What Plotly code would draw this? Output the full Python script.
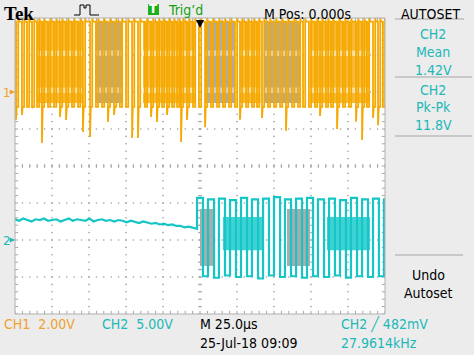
import numpy as np
import plotly.graph_objects as go

# ---------------- data (read from the screen) ----------------
# time base: 25 us/div, 10 div, M Pos 0 -> screen spans -125..125 us
# CH1: 2.00 V/div, ground marker +2 div ; CH2: 5.00 V/div, ground marker -2 div
ch1_edge_us = [-124.3, -120.3, -116.9, -113.5, -110.1, -106.8, -102.7, -98.6, -94.6, -90.5,
               -86.5, -82.4, -79.1, -74.3, -70.3, -66.2, -62.2, -58.1, -54.1, -50.0,
               -45.9, -41.9, -37.2, -33.1, -29.1, -25.7, -22.3, -18.9, -15.5, -12.8,
               -8.8, -4.7, -0.7, 3.4, 7.4, 11.5, 15.5, 19.6, 23.6, 27.0,
               31.1, 35.1, 38.5, 41.9, 45.9, 50.0, 54.1, 58.1, 62.2, 66.2,
               69.6, 73.6, 77.7, 81.1, 85.1, 88.5, 92.6, 96.6, 100.7, 105.4,
               109.5, 112.8, 116.9, 120.3, 123.6]
ch1_dip_v = [-1.5, -1.24, -0.8, -0.86, -0.8, -2.76, -0.8, -0.8, -1.35, -1.51,
             -0.8, -0.8, -2.16, -2.43, -0.8, -0.8, -1.62, -1.24, -0.8, -0.8,
             -2.49, -2.49, -0.8, -1.35, -1.62, -0.8, -1.24, -0.8, -0.8, -2.70,
             -1.51, -0.8, -0.8, -1.9, -0.8, -0.8, -0.8, -0.8, -0.8, -1.5,
             -0.8, -0.8, -0.8, -1.4, -0.8, -0.8, -0.8, -2.1, -0.8, -0.8,
             -0.8, -0.8, -0.8, -1.3, -0.8, -0.8, -2.0, -0.8, -0.8, -1.6,
             -2.6, -0.8, -1.4, -1.8, -0.8]
ch1_high_v = 3.8
ch1_low_v = -0.8
ch1_band_start_us = [-110.1, -70.9, -38.5, 3.4, 27.0, 43.9, 74.3]
ch1_band_end_us = [-79.1, -52.0, -3.4, 23.6, 41.0, 67.6, 114.9]
ch1_band_kind = ["y", "g", "y", "g", "y", "g", "y"]

ch2_flat_v = [2.8, 2.6, 2.9, 2.7, 2.5, 2.8, 2.7, 2.9, 2.6, 2.7, 2.8, 2.5, 2.7, 2.9, 2.6,
              2.8, 2.7, 2.6, 2.9, 2.5, 2.7, 2.8, 2.6, 2.7, 2.5, 2.7, 2.6, 2.4, 2.6, 2.5,
              2.3, 2.5, 2.4, 2.2, 2.3, 2.1, 2.2, 2.0, 2.1, 1.9, 1.9, 1.7, 1.8, 1.6, 1.5]
ch2_flat_start_us = -125.0
ch2_flat_end_us = -2.0
ch2_edge_us = [-2.0, 2.0, 5.4, 9.5, 12.8, 16.9, 20.3, 24.3, 27.7, 31.8, 35.1, 39.2,
               42.6, 46.6, 50.0, 54.1, 57.4, 61.5, 64.9, 68.9, 72.3, 76.4, 79.7, 83.8,
               87.2, 91.2, 94.6, 98.6, 102.0, 106.1, 109.5, 113.5, 116.9, 120.9, 124.3]
ch2_level_v = [5.7, -4.9, 5.5, -5.1, 5.6, -4.8, 5.4, -5.0, 5.7, -4.9, 5.5, -5.2,
               5.6, -4.8, 5.8, -5.0, 5.5, -4.9, 5.6, -5.1, 5.7, -4.9, 5.5, -5.0,
               5.6, -4.8, 5.4, -5.1, 5.7, -4.9, 5.5, -5.0, 5.6, -4.9, 5.5]
ch2_band_start_us = [0.0, 15.5, 58.8, 85.8]
ch2_band_end_us = [8.8, 42.6, 74.3, 114.9]
ch2_band_kind = ["g", "c", "g", "c"]

CH1_VDIV, CH1_POS = 2.0, 2.0
CH2_VDIV, CH2_POS = 5.0, -2.0

# ---------------- styling ----------------
W, H = 474, 355
PL, PR, PT, PB = 15, 385, 18, 314
YEL = "#F5A900"
YEL_FILL = "#F7B936"
YEL_STRIPE = "#FCE2A6"
CYAN = "#16C6C6"
CYAN_FILL = "#3ED3D3"
GRAYF = "#ABABAB"
GRAY_STRIPE = "#D2D2D2"
TXT_CY = "#20B8B8"
TXT_OR = "#EFA22C"
BG = "#ECECEC"
FONT = "DejaVu Sans Condensed"


def d1(v):
    return v / CH1_VDIV + CH1_POS


def d2(v):
    return v / CH2_VDIV + CH2_POS


def px(x):
    return (x - PL) / (PR - PL)


def py(y):
    return (PB - y) / (PB - PT)


def rect(fig, x0, x1, y0, y1, color):
    fig.add_trace(go.Scatter(x=[x0, x1, x1, x0, x0], y=[y0, y0, y1, y1, y0],
                             fill="toself", fillcolor=color, line=dict(width=0), mode="lines",
                             hoverinfo="skip", showlegend=False))


fig = go.Figure()

# grid dots
gx, gy = [], []
for k in range(-4, 5):
    for m in np.arange(-4, 4.001, 0.2):
        gx.append(k * 25.0)
        gy.append(m)
for k in range(-3, 4):
    for m in np.arange(-5, 5.001, 0.2):
        gx.append(m * 25.0)
        gy.append(k)
fig.add_trace(go.Scatter(x=gx, y=gy, mode="markers",
                         marker=dict(size=1.6, color="#9C9C9C", line=dict(width=0)),
                         hoverinfo="skip", showlegend=False))

# ticks on border and central axes
tx, ty = [], []
tl_x = 2.0 / 37 * 25
tl_y = 2.0 / 37
for m in np.arange(-5, 5.001, 0.2):
    x = m * 25.0
    tx += [x, x, None, x, x, None, x, x, None]
    ty += [-4, -4 + 1.6 * tl_y, None, 4, 4 - 1.6 * tl_y, None, -tl_y, tl_y, None]
for m in np.arange(-4, 4.001, 0.2):
    tx += [-125, -125 + 1.6 * tl_x, None, 125, 125 - 1.6 * tl_x, None, -tl_x, tl_x, None]
    ty += [m, m, None, m, m, None, m, m, None]
fig.add_trace(go.Scatter(x=tx, y=ty, mode="lines", line=dict(color="#A8A8A8", width=1),
                         hoverinfo="skip", showlegend=False))

# CH1 band fills
for s, e, k in zip(ch1_band_start_us, ch1_band_end_us, ch1_band_kind):
    col = YEL_FILL if k == "y" else GRAYF
    stripe = YEL_STRIPE if k == "y" else GRAY_STRIPE
    rect(fig, s, e, d1(ch1_high_v), d1(ch1_low_v + 0.2), col)
    for lv in (2.1, 0.1):
        rect(fig, s, e, d1(lv + 0.15), d1(lv - 0.15), stripe)

# CH2 band fills
for s, e, k in zip(ch2_band_start_us, ch2_band_end_us, ch2_band_kind):
    if k == "c":
        rect(fig, s, e, d2(3.1), d2(-1.4), CYAN_FILL)
    else:
        rect(fig, s, e, d2(4.2), d2(-3.5), GRAYF)

# CH1 trace
x1, y1 = [-125.0], [d1(ch1_high_v)]
for t, dv in zip(ch1_edge_us, ch1_dip_v):
    x1 += [t, t, t + 0.5, t + 1.5, t + 1.5, t + 2.0]
    y1 += [d1(ch1_high_v), d1(dv), d1(ch1_low_v), d1(ch1_low_v), d1(ch1_high_v + 0.2), d1(ch1_high_v)]
fig.add_trace(go.Scatter(x=x1, y=y1, mode="lines", line=dict(color=YEL, width=1.8),
                         hoverinfo="skip", showlegend=False))

# CH2 trace
n = len(ch2_flat_v)
x2 = [ch2_flat_start_us + (ch2_flat_end_us - ch2_flat_start_us) * i / (n - 1) for i in range(n)]
y2 = [d2(v) for v in ch2_flat_v]
prev = ch2_flat_v[-1]
for t, lv in zip(ch2_edge_us, ch2_level_v):
    x2 += [t, t]
    y2 += [d2(prev), d2(lv)]
    prev = lv
x2.append(125.0)
y2.append(d2(prev))
fig.add_trace(go.Scatter(x=x2, y=y2, mode="lines", line=dict(color=CYAN, width=2.2),
                         hoverinfo="skip", showlegend=False))

# ---------------- annotations ----------------
ann = []


def txt(x, y, s, color="black", size=14, xanchor="center", family=FONT, bold=False):
    if bold:
        s = "<b>" + s + "</b>"
    ann.append(dict(x=px(x), y=py(y), xref="paper", yref="paper", text=s, showarrow=False,
                    xanchor=xanchor, yanchor="middle", font=dict(color=color, size=size, family=family)))


txt(2, 13, "Tek", size=19, xanchor="left", family="Liberation Serif", bold=True)
txt(166, 10, "Trig’d", color="#16A016", size=14, xanchor="left")
txt(307, 14, "M Pos: 0.000s")
txt(430, 14, "AUTOSET")
for yy, s in [(34, "CH2"), (52, "Mean"), (70, "1.42V"), (90, "CH2"), (107, "Pk-Pk"), (125, "11.8V")]:
    txt(433, yy, s, color=TXT_CY)
txt(429, 275, "Undo")
txt(429, 293, "Autoset")
txt(2, 324, "CH1  2.00V", color=TXT_OR, xanchor="left")
txt(100, 324, "CH2  5.00V", color=TXT_CY, xanchor="left")
txt(198, 324, "M 25.0µs", xanchor="left")
txt(198, 343, "25-Jul-18 09:09", xanchor="left")
txt(339, 324, "CH2 ╱ 482mV", color=TXT_CY, xanchor="left")
txt(339, 343, "27.9614kHz", color=TXT_CY, xanchor="left")
ann.append(dict(x=px(153.5), y=py(9.5), xref="paper", yref="paper", text="<b>T</b>", showarrow=False,
                xanchor="center", yanchor="middle",
                font=dict(color="white", size=12, family="DejaVu Sans")))
# channel ground markers
txt(1, 92, "1", color=TXT_OR, size=13, xanchor="left")
txt(1, 240, "2", color=TXT_CY, size=13, xanchor="left")
ann.append(dict(x=px(15), y=d1(0) / 8 + 0.5, xref="paper", yref="paper", text="", showarrow=True,
                ax=-7, ay=0, arrowhead=2, arrowsize=0.8, arrowwidth=1.3, arrowcolor=TXT_OR))
ann.append(dict(x=px(15), y=d2(0) / 8 + 0.5, xref="paper", yref="paper", text="", showarrow=True,
                ax=-7, ay=0, arrowhead=2, arrowsize=0.8, arrowwidth=1.3, arrowcolor=TXT_CY))
# trigger position arrow
ann.append(dict(x=px(200), y=py(28), xref="paper", yref="paper", text="", showarrow=True,
                ax=0, ay=-9, arrowhead=2, arrowsize=1.0, arrowwidth=1.6, arrowcolor="black"))

shapes = [
    dict(type="rect", xref="paper", yref="paper", x0=px(148), x1=px(159), y0=py(15), y1=py(4),
         fillcolor="#1DB01D", line=dict(width=0), layer="below"),
    dict(type="rect", xref="paper", yref="paper", x0=0, x1=1, y0=0, y1=1,
         line=dict(color="#B0B0B0", width=1)),
]
for yy, x0, x1 in [(19, 395, 464), (77, 395, 472), (136, 395, 472), (255, 395, 463)]:
    shapes.append(dict(type="line", xref="paper", yref="paper", x0=px(x0), x1=px(x1), y0=py(yy), y1=py(yy),
                       line=dict(color="#A4A4A4", width=1)))
# pulse icon
shapes.append(dict(type="path", xref="paper", yref="paper",
                   path="M {a},{b} L {c},{b} L {c},{t} L {d},{t} L {d},{m} L {e},{m} L {e},{t} L {f},{t} L {f},{b} L {g},{b}".format(
                       a=px(74), b=py(15), c=px(80), t=py(5), d=px(84), m=py(8), e=px(86), f=px(90), g=px(99)),
                   line=dict(color="black", width=1)))

fig.update_layout(
    width=W, height=H,
    margin=dict(l=PL, r=W - PR, t=PT, b=H - PB, pad=0),
    paper_bgcolor=BG, plot_bgcolor="white",
    xaxis=dict(range=[-125, 125], showgrid=False, zeroline=False, showticklabels=False, ticks="", fixedrange=True),
    yaxis=dict(range=[-4, 4], showgrid=False, zeroline=False, showticklabels=False, ticks="", fixedrange=True),
    annotations=ann, shapes=shapes, showlegend=False,
)
fig.write_html("out.html", config={"displayModeBar": False},
               post_script="document.body.style.margin='0';document.body.style.padding='0';")
